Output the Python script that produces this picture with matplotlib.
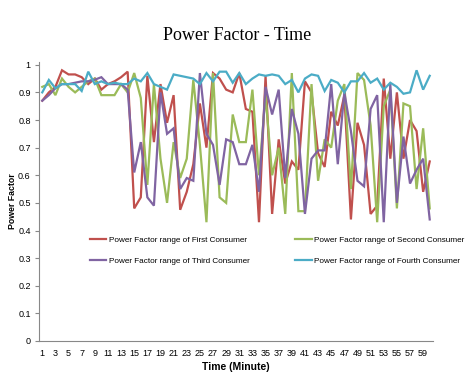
import numpy as np
import matplotlib
matplotlib.use("Agg")
import matplotlib.pyplot as plt

# ---------------------------------------------------------------------------
#  Data
# ---------------------------------------------------------------------------
minutes = list(range(1, 61))

first_consumer = [
    0.87, 0.90, 0.92, 0.98, 0.965, 0.965, 0.955, 0.93, 0.95, 0.91,
    0.93, 0.94, 0.955, 0.975, 0.48, 0.52, 0.96, 0.72, 0.93, 0.79,
    0.89, 0.475, 0.54, 0.64, 0.86, 0.70, 0.97, 0.95, 0.91, 0.90,
    0.97, 0.84, 0.83, 0.43, 0.96, 0.46, 0.73, 0.57, 0.65, 0.62,
    0.94, 0.90, 0.68, 0.63, 0.83, 0.78, 0.89, 0.44, 0.79, 0.71,
    0.46, 0.49, 0.95, 0.66, 0.90, 0.66, 0.80, 0.76, 0.54, 0.65,
]
second_consumer = [
    0.92, 0.93, 0.89, 0.95, 0.92, 0.90, 0.92, 0.94, 0.95, 0.89,
    0.89, 0.89, 0.93, 0.90, 0.97, 0.88, 0.565, 0.93, 0.66, 0.50,
    0.72, 0.59, 0.66, 0.945, 0.71, 0.43, 0.97, 0.52, 0.50, 0.82,
    0.72, 0.72, 0.91, 0.60, 0.89, 0.60, 0.70, 0.46, 0.97, 0.47,
    0.47, 0.93, 0.58, 0.73, 0.70, 0.87, 0.93, 0.55, 0.97, 0.945,
    0.78, 0.43, 0.85, 0.91, 0.48, 0.86, 0.85, 0.55, 0.77, 0.48,
]
third_consumer = [
    0.87, 0.89, 0.915, 0.93, 0.93, 0.935, 0.94, 0.94, 0.946, 0.955,
    0.93, 0.93, 0.93, 0.91, 0.61, 0.72, 0.52, 0.49, 0.90, 0.75,
    0.77, 0.55, 0.59, 0.58, 0.97, 0.75, 0.71, 0.565, 0.73, 0.72,
    0.64, 0.64, 0.71, 0.54, 0.92, 0.82, 0.91, 0.59, 0.84, 0.75,
    0.46, 0.66, 0.69, 0.69, 0.93, 0.64, 0.90, 0.76, 0.58, 0.56,
    0.84, 0.89, 0.43, 0.93, 0.50, 0.74, 0.57, 0.62, 0.66, 0.44,
]
fourth_consumer = [
    0.90, 0.945, 0.915, 0.93, 0.93, 0.93, 0.905, 0.975, 0.93, 0.94,
    0.93, 0.935, 0.93, 0.93, 0.95, 0.94, 0.97, 0.93, 0.92, 0.91,
    0.965, 0.96, 0.955, 0.95, 0.93, 0.97, 0.94, 0.975, 0.975, 0.935,
    0.97, 0.93, 0.95, 0.965, 0.96, 0.965, 0.96, 0.93, 0.945, 0.90,
    0.95, 0.965, 0.96, 0.905, 0.945, 0.935, 0.90, 0.94, 0.94, 0.97,
    0.935, 0.95, 0.91, 0.935, 0.92, 0.895, 0.90, 0.98, 0.91, 0.96,
]

series_labels = [
    "Power Factor range of First Consumer",
    "Power Factor range of Second Consumer",
    "Power Factor range of Third Consumer",
    "Power Factor range of Fourth Consumer",
]
series_colors = ["#C0504D", "#9BBB59", "#8064A2", "#4BACC6"]

x_ticks = list(range(1, 60, 2))
y_ticks = [0, 0.1, 0.2, 0.3, 0.4, 0.5, 0.6, 0.7, 0.8, 0.9, 1]
y_tick_labels = ["0", "0.1", "0.2", "0.3", "0.4", "0.5", "0.6", "0.7",
                 "0.8", "0.9", "1"]

# ---------------------------------------------------------------------------
#  Figure
# ---------------------------------------------------------------------------
W, H = 474, 385
fig = plt.figure(figsize=(W / 100, H / 100), dpi=100)
ax = fig.add_axes([39 / W, 44 / H, 394 / W, 279 / H])

font = "Liberation Sans"
handles = []
for vals, lab, col in zip(
        [first_consumer, second_consumer, third_consumer, fourth_consumer],
        series_labels, series_colors):
    h, = ax.plot(minutes, vals, color=col, linewidth=1.6, label=lab,
                 solid_joinstyle="miter")
    handles.append(h)

ax.set_xlim(0.5, 60.5)
ax.set_ylim(0, 1.01)
ax.set_xticks(x_ticks)
ax.set_xticklabels([str(t) for t in x_ticks], fontsize=6.5, family=font)
ax.set_yticks(y_ticks)
ax.set_yticklabels(y_tick_labels, fontsize=6.5, family=font)
ax.tick_params(axis="x", length=0, pad=6)
ax.tick_params(axis="y", length=3, width=0.8, color="#888888", pad=3)

for side in ["top", "right"]:
    ax.spines[side].set_visible(False)
for side in ["left", "bottom"]:
    ax.spines[side].set_color("#888888")
    ax.spines[side].set_linewidth(0.8)

ax.set_xlabel("Time (Minute)", fontsize=7.5, fontweight="bold",
              family=font, labelpad=3)
ax.set_ylabel("Power Factor", fontsize=6.3, fontweight="bold",
              family=font, labelpad=1)

fig.text(0.5, 1 - 36 / H, "Power Factor - Time", ha="center",
         va="center", fontsize=13, family="Liberation Serif")

# legend: two rows, two columns (row-wise order)
order = [0, 2, 1, 3]
ax.legend([handles[i] for i in order], [series_labels[i] for i in order],
          ncol=2, loc="upper left", bbox_to_anchor=(0.11, 0.402),
          frameon=False, prop={"family": font, "size": 5.9},
          handlelength=2.0, handletextpad=0.3, columnspacing=5.6,
          labelspacing=1.6)

fig.savefig("out.png", dpi=100)
